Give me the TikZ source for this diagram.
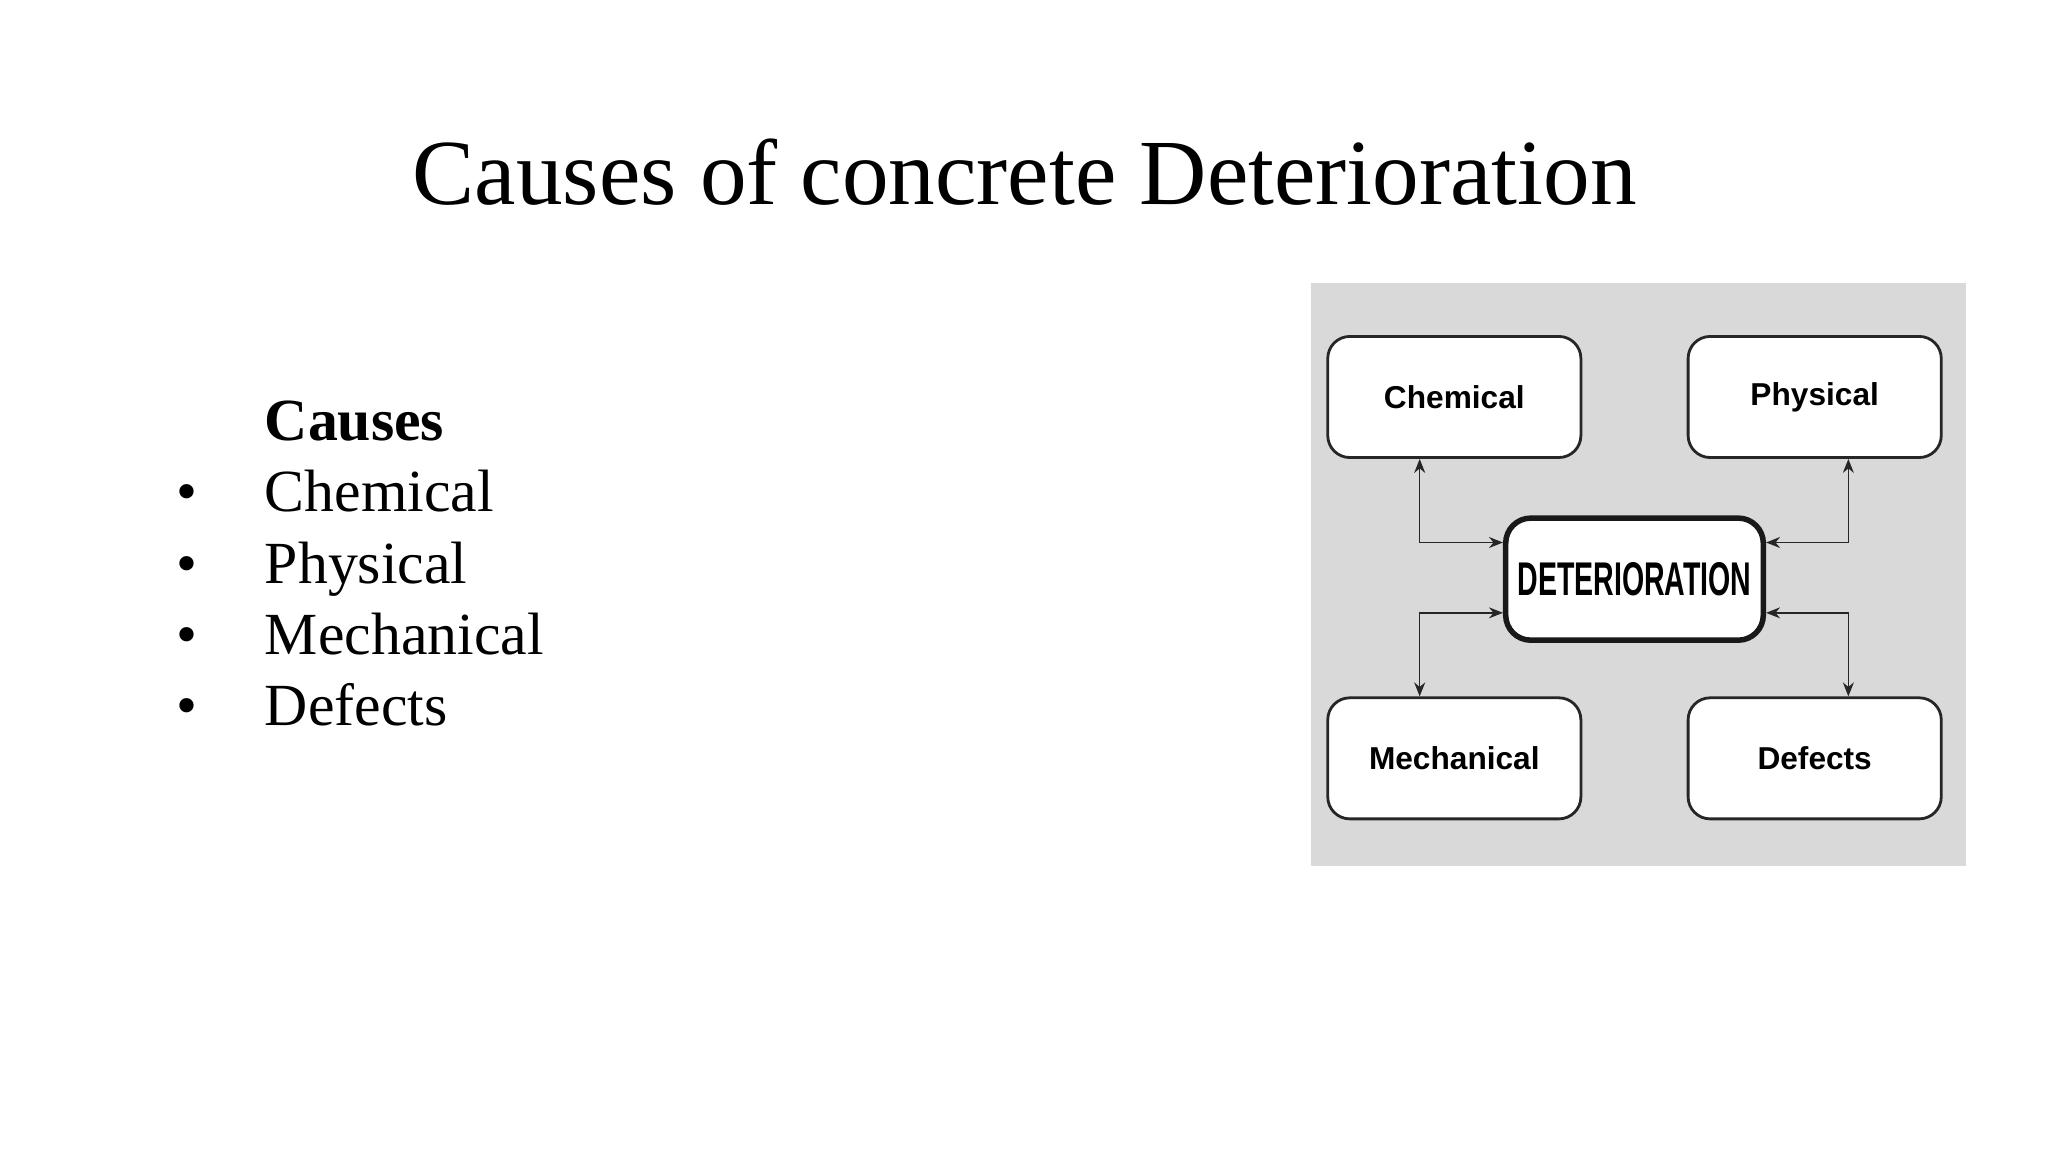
\documentclass[tikz,border=0pt]{standalone}
\usepackage{fontspec}
\setmainfont{Liberation Serif}
\newfontfamily\boxfont{Liberation Sans}
\usetikzlibrary{arrows.meta}
\begin{document}
\begin{tikzpicture}[x=0.01cm,y=-0.01cm,
  cbox/.style={draw=black!85,line width=0.028cm,rounded corners=0.22cm,fill=white,
    minimum width=2.53cm,minimum height=1.21cm,font=\boxfont\bfseries\fontsize{9}{11}\selectfont},
  link/.style={draw=black!85,line width=0.014cm,{Stealth[length=0.14cm,width=0.11cm]}-{Stealth[length=0.14cm,width=0.11cm]}},
  item/.style={anchor=base west,font=\fontsize{17}{21}\selectfont}]
\useasboundingbox (0,0) rectangle (2048,1152);
\fill[white] (0,0) rectangle (2048,1152);
\begin{scope}[scale=0.99]
\node[anchor=base,font=\fontsize{26.5}{32}\selectfont] (title) at (1035,207) {Causes of concrete Deterioration};
\node[item,font=\fontsize{17}{21}\selectfont\bfseries] (hd) at (255,445) {Causes};
\foreach \t/\y/\n in {Chemical/517/a,Physical/589/b,Mechanical/661/c,Defects/733/d}{
  \node[item] (i\n) at (255,\y) {\t};
  \node[anchor=base,font=\fontsize{17}{21}\selectfont] (b\n) at (189,\y) {\textbullet};
}
\fill[black!15] (1324,286) rectangle (1986,875);
\node[cbox] (chem) at (1469,401) {Chemical};
\node[cbox] (phys) at (1833,401) {Physical};
\node[cbox] (mech) at (1469,766) {Mechanical};
\node[cbox] (def) at (1833,766) {Defects};
\node[draw=black!90,line width=0.055cm,rounded corners=0.25cm,fill=white,
  minimum width=2.54cm,minimum height=1.22cm] (det) at (1651,585)
  {\resizebox{2.34cm}{0.33cm}{\boxfont\bfseries DETERIORATION}};
\coordinate (cl) at (1434,0);
\coordinate (cr) at (1867,0);
\draw[link] (chem.south -| cl) |- ([yshift=0.37cm]det.west);
\draw[link] (phys.south -| cr) |- ([yshift=0.37cm]det.east);
\draw[link] (mech.north -| cl) |- ([yshift=-0.34cm]det.west);
\draw[link] (def.north -| cr) |- ([yshift=-0.34cm]det.east);
\end{scope}
\end{tikzpicture}
\end{document}
